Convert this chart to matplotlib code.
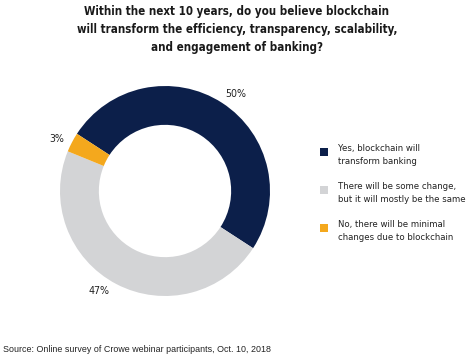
import matplotlib
matplotlib.use("Agg")
import matplotlib.pyplot as plt
import numpy as np
from matplotlib import font_manager as fm

def pick(weight_bold):
    cands = []
    for f in fm.fontManager.ttflist:
        st = str(f.stretch).lower()
        if "condensed" in st or "narrow" in f.name.lower() or "condensed" in f.name.lower():
            w = f.weight if isinstance(f.weight, int) else (700 if "bold" in str(f.weight) else 400)
            if f.style != "normal":
                continue
            if (w >= 600) == weight_bold:
                cands.append(f)
    cands.sort(key=lambda f: (0 if "Liberation" in f.name else 1 if "DejaVu" in f.name else 2))
    return cands[0].fname if cands else None

reg_path = pick(False)
bold_path = pick(True)
condensed = reg_path is not None and bold_path is not None

def fp(size, bold=False):
    if condensed:
        return fm.FontProperties(fname=bold_path if bold else reg_path, size=size)
    return fm.FontProperties(family="Liberation Sans", weight="bold" if bold else "normal",
                             size=size * 0.85)

categories = ["Yes, blockchain will\ntransform banking",
              "There will be some change,\nbut it will mostly be the same",
              "No, there will be minimal\nchanges due to blockchain"]
values = [50, 47, 3]
pct_labels = ["50%", "47%", "3%"]
colors = ["#0c1f4a", "#d3d4d6", "#f4a81d"]

title = ("Within the next 10 years, do you believe blockchain\n"
         "will transform the efficiency, transparency, scalability,\n"
         "and engagement of banking?")
source = "Source: Online survey of Crowe webinar participants, Oct. 10, 2018"

W, H = 474, 357
fig = plt.figure(figsize=(W / 100, H / 100), dpi=100)
fig.patch.set_facecolor("white")

cx, cy, R = 165, 191, 105
ax = fig.add_axes([(cx - R) / W, (H - cy - R) / H, 2 * R / W, 2 * R / H])
wedges, _ = ax.pie(values, colors=colors, startangle=147, counterclock=False,
                   radius=1.0, wedgeprops=dict(width=0.37, edgecolor="none"))
ax.set_xlim(-1, 1)
ax.set_ylim(-1, 1)
ax.set_aspect("equal")
ax.axis("off")

offsets = [-3, -6, 2]
for w, lab, off in zip(wedges, pct_labels, offsets):
    ang = np.deg2rad((w.theta1 + w.theta2) / 2 + off)
    r = 1.14
    ax.text(r * np.cos(ang), r * np.sin(ang), lab, ha="center", va="center",
            fontproperties=fp(7.6), color="#222222", clip_on=False)

fig.text(0.5, 1 - 30 / H, title, ha="center", va="center",
         fontproperties=fp(8.3, bold=True), color="#1a1a1a", linespacing=1.5)

ys = [155, 193, 231]
for c, lab, y in zip(colors, categories, ys):
    fig.patches.append(plt.Rectangle((320 / W, 1 - (y - 7) / H - 8 / H), 8 / W, 8 / H,
                                     transform=fig.transFigure, facecolor=c,
                                     edgecolor="none"))
    fig.text(338 / W, 1 - y / H, lab, ha="left", va="center",
             fontproperties=fp(6.8), color="#222222", linespacing=1.5)

fig.text(3 / W, 1 - 350 / H, source, ha="left", va="center",
         fontproperties=fm.FontProperties(family="Liberation Sans", size=6.4),
         color="#222222")

fig.savefig("out.png", dpi=100)
